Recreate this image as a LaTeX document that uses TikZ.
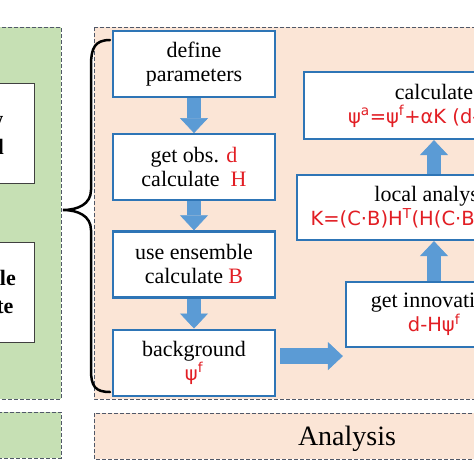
\documentclass[tikz,border=0pt]{standalone}
\usepackage{fontspec}
\setmainfont{Liberation Serif}
\newfontfamily\formfont{DejaVu Sans}
\usetikzlibrary{arrows.meta, positioning}

\definecolor{panelgreen}{RGB}{198,224,180}
\definecolor{panelpink}{RGB}{251,229,214}
\definecolor{dashgray}{RGB}{80,88,104}
\definecolor{boxblue}{RGB}{46,117,182}
\definecolor{arrowblue}{RGB}{91,155,213}
\definecolor{formred}{RGB}{226,30,36}

\newcommand{\rd}[1]{\textcolor{formred}{#1}}
\newcommand{\fm}[1]{\textcolor{formred}{\formfont\fontsize{19.5}{24}\selectfont #1}}

\begin{document}
\begin{tikzpicture}[
    x=1pt, y=-1pt,
    node distance=30pt,
    panel/.style={draw=dashgray, dash pattern=on 4pt off 2pt, line width=0.9pt},
    stepbox/.style={draw=boxblue, line width=2.2pt, fill=white, minimum width=162pt, minimum height=66pt, align=center, font=\fontsize{22}{24}\selectfont},
    leftbox/.style={draw=black!75, line width=1pt, fill=white, minimum height=100pt, align=center, font=\fontsize{22}{28}\selectfont\bfseries},
    blockarrow/.style={line width=14pt, draw=arrowblue, -{Triangle[width=28pt, length=15pt, line width=0.6pt]}}
]
\useasboundingbox (0,0) rectangle (474,474);
\clip (0,0) rectangle (474,474);
\fill[white] (0,0) rectangle (474,474);

% panels
\draw[panel, fill=panelgreen] (-10,27) rectangle (61,399);
\draw[panel, fill=panelpink] (94,27) rectangle (600,399);
\draw[panel, fill=panelgreen] (-10,412) rectangle (61,458);
\draw[panel, fill=panelpink] (94,413) rectangle (600,459);
\node[font=\fontsize{28}{30}\selectfont] (analysis) at (347,439) {Analysis};

% left column
\node[leftbox, minimum width=108pt] (flow) at (-20,133) {Flow\\Field};
\node[leftbox, minimum width=128pt] (ens) at (-30,292) {Ensemble\\Generate};

% brace
\draw[line width=2.5pt, line cap=round] (110,40) .. controls (95,40) and (91,48) .. (91,65) -- (91,190) .. controls (91,204) and (78,210) .. (63,210) .. controls (78,210) and (91,216) .. (91,230) -- (91,370) .. controls (91,386) and (95,392) .. (110,392);

% analysis steps
\node[stepbox] (define) at (194,64) {define\\parameters};
\node[stepbox, below=35pt of define] (obs) {get obs. \rd{d}\\calculate\ \ \rd{H}};
\node[stepbox, below=29pt of obs] (cov) {use ensemble\\calculate \rd{B}};
\node[stepbox, below=30pt of cov] (bg) {background\\\fm{ψ\textsuperscript{f}}};

\node[stepbox, minimum width=176pt, minimum height=65pt] (innov) at (434,314.5) {get innovation\\\fm{d-Hψ\textsuperscript{f}}};
\node[stepbox, minimum width=274pt, minimum height=65pt] (local) at (434,207.5) {local analysis\\\fm{K=(C·B)H\textsuperscript{T}(H(C·B)H\textsuperscript{T}+R)\textsuperscript{-1}}};
\node[stepbox, minimum width=260pt, minimum height=67pt] (update) at (434,105.5) {calculate\\\fm{ψ\textsuperscript{a}=ψ\textsuperscript{f}+αK (d-Hψ\textsuperscript{f})}};

\draw[blockarrow] (define) -- (obs);
\draw[blockarrow] (obs) -- (cov);
\draw[blockarrow] (cov) -- (bg);
\draw[blockarrow, line width=16pt, shorten <=4pt, shorten >=2pt] ([yshift=6.5pt]bg.east) -- ([yshift=6.5pt]bg.east -| innov.west);
\draw[blockarrow] (innov) -- (local);
\draw[blockarrow] (local) -- (update);
\end{tikzpicture}
\end{document}
